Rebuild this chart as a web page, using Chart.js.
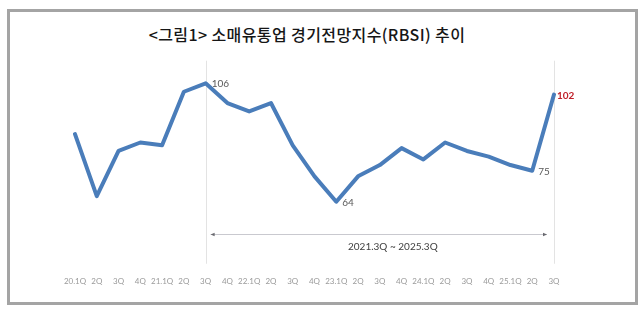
<!DOCTYPE html>
<html>
<head>
<meta charset="utf-8">
<script src="https://cdn.jsdelivr.net/npm/chart.js@4/dist/chart.umd.min.js"></script>
<style>
  html, body { margin: 0; padding: 0; background: #fff; }
  #wrap { position: relative; width: 640px; height: 326px; overflow: hidden; }
  #frame { position: absolute; left: 7px; top: 9px; width: 625px; height: 290px;
           border: 3px solid #a4a4a4; box-sizing: content-box; }
  #title { position: absolute; left: -13px; top: 24px; width: 640px; text-align: center;
           font: 500 16px "Noto Sans CJK KR"; letter-spacing: 0.4px; line-height: 20px; color: #161616; }
  canvas { position: absolute; left: 0; top: 0; }
</style>
</head>
<body>
<div id="wrap">
  <div id="frame"></div>
  <div id="title">&lt;그림1&gt; 소매유통업 경기전망지수(RBSI) 추이</div>
  <canvas id="chart" width="640" height="326"></canvas>
</div>
<script>
// Quarter labels and retail business survey index (RBSI) values
const quarters = ['20.1Q','2Q','3Q','4Q','21.1Q','2Q','3Q','4Q','22.1Q','2Q','3Q','4Q',
                  '23.1Q','2Q','3Q','4Q','24.1Q','2Q','3Q','4Q','25.1Q','2Q','3Q'];
const rbsi = [88, 66, 82, 85, 84, 103, 106, 99, 96, 99, 84, 73,
              64, 73, 77, 83, 79, 85, 82, 80, 77, 75, 102];
// Points that carry a value label, and the latest one shown in red
const labelledPoints = [6, 12, 21, 22];
const highlightPoint = 22;
// Bracketed period
const periodStart = 6;
const periodEnd = 22;
const periodLabel = '2021.3Q ~ 2025.3Q';

const periodMarks = {
  id: 'periodMarks',
  beforeDatasetsDraw(chart) {
    const { ctx, scales: { x, y } } = chart;
    const x0 = x.getPixelForValue(periodStart);
    const x1 = x.getPixelForValue(periodEnd);
    const top = y.getPixelForValue(114);
    const bottom = y.getPixelForValue(42);
    ctx.save();
    ctx.strokeStyle = '#e3e3e3';
    ctx.lineWidth = 1;
    [x0, x1].forEach(px => {
      ctx.beginPath();
      ctx.moveTo(Math.round(px) + 0.5, top);
      ctx.lineTo(Math.round(px) + 0.5, bottom);
      ctx.stroke();
    });
    // double-headed arrow spanning the period
    const ay = Math.round(y.getPixelForValue(52.4)) + 0.5;
    const ax0 = x0 + 5, ax1 = x1 - 7;
    ctx.strokeStyle = '#c9c9cf';
    ctx.beginPath();
    ctx.moveTo(ax0, ay);
    ctx.lineTo(ax1, ay);
    ctx.stroke();
    ctx.fillStyle = '#6a6a70';
    ctx.beginPath();
    ctx.moveTo(ax0, ay); ctx.lineTo(ax0 + 4, ay - 1.8); ctx.lineTo(ax0 + 4, ay + 1.8);
    ctx.fill();
    ctx.beginPath();
    ctx.moveTo(ax1, ay); ctx.lineTo(ax1 - 4, ay - 1.8); ctx.lineTo(ax1 - 4, ay + 1.8);
    ctx.fill();
    ctx.font = '10px Lato';
    ctx.fillStyle = '#404040';
    ctx.textAlign = 'center';
    ctx.textBaseline = 'middle';
    ctx.fillText(periodLabel, (ax0 + ax1) / 2 + 14, y.getPixelForValue(47.9));
    ctx.restore();
  },
  afterDatasetsDraw(chart) {
    const { ctx } = chart;
    const meta = chart.getDatasetMeta(0);
    ctx.save();
    ctx.textAlign = 'left';
    ctx.textBaseline = 'middle';
    labelledPoints.forEach(i => {
      const pt = meta.data[i];
      const hot = i === highlightPoint;
      ctx.font = hot ? 'bold 10px Lato' : '10px Lato';
      ctx.fillStyle = hot ? '#c0202a' : '#595959';
      ctx.fillText(String(rbsi[i]), pt.x + (hot ? 3 : 6), pt.y + 1);
    });
    ctx.restore();
  }
};

new Chart(document.getElementById('chart'), {
  type: 'line',
  data: {
    labels: quarters,
    datasets: [{
      data: rbsi,
      borderColor: '#4a7dba',
      borderWidth: 4,
      pointRadius: 0,
      tension: 0,
      borderJoinStyle: 'round',
      borderCapStyle: 'round'
    }]
  },
  options: {
    responsive: false,
    animation: false,
    layout: { padding: { left: 75, right: 86, top: 43.8, bottom: 36.6 } },
    plugins: { legend: { display: false }, tooltip: { enabled: false } },
    scales: {
      x: {
        grid: { display: false, drawTicks: false, tickLength: 0 },
        border: { display: false },
        ticks: {
          autoSkip: false, maxRotation: 0, minRotation: 0, padding: 7,
          color: '#9a9a9a', font: { family: 'Lato', size: 8 }
        },
        afterFit(axis) { axis.height = 20; }
      },
      y: { display: false, min: 40, max: 120 }
    }
  },
  plugins: [periodMarks]
});
</script>
</body>
</html>
